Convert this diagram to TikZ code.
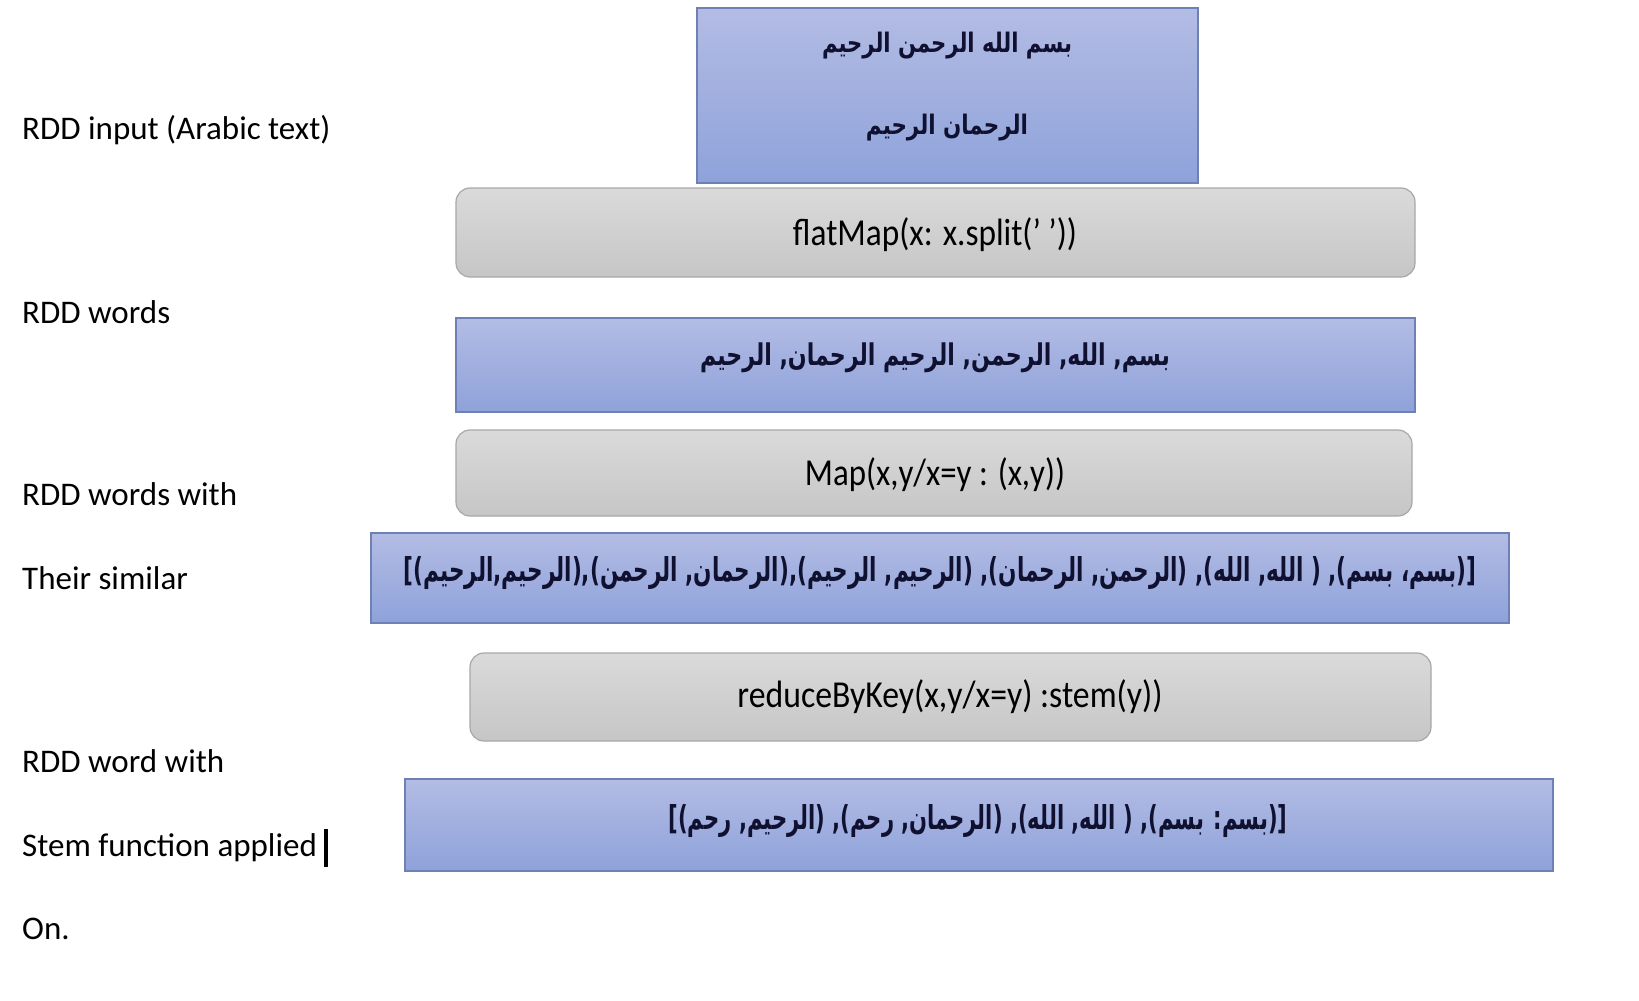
\documentclass[tikz,border=0pt]{standalone}
\usepackage{fontspec}
\setmainfont{Carlito}
\newfontfamily\arabicfont[Script=Arabic]{DejaVu Sans}
\TeXXeTstate=1
\definecolor{bluetop}{HTML}{B3BCE4}
\definecolor{bluebot}{HTML}{8EA2DA}
\definecolor{blueedge}{HTML}{6E80B4}
\definecolor{graytop}{HTML}{DADADA}
\definecolor{graybot}{HTML}{C6C6C6}
\definecolor{grayedge}{HTML}{A8A8A8}
\definecolor{artext}{HTML}{101030}
\tikzset{
  bluebox/.style={draw=blueedge, line width=1.5pt, top color=bluetop, bottom color=bluebot, inner sep=0pt},
  graybox/.style={draw=grayedge, line width=1.2pt, top color=graytop, bottom color=graybot, rounded corners=14pt, inner sep=0pt},
  artxt/.style={inner sep=0pt, text=artext, font=\arabicfont\bfseries},
  optxt/.style={inner sep=0pt, text=black},
  lbl/.style={anchor=base west, inner sep=0pt, text=black, font=\fontsize{33}{38}\selectfont}
}
\begin{document}
\begin{tikzpicture}[x=1pt,y=-1pt]
\useasboundingbox (0,0) rectangle (1639,1001);
% boxes
\node[bluebox, minimum width=501pt, minimum height=175pt] (b1) at (947.5,95.5) {};
\node[graybox, minimum width=959pt, minimum height=89pt] (g1) at (935.5,232.5) {};
\node[bluebox, minimum width=959pt, minimum height=94pt] (b2) at (935.5,365) {};
\node[graybox, minimum width=956pt, minimum height=86pt] (g2) at (934,473) {};
\node[bluebox, minimum width=1138pt, minimum height=90pt] (b3) at (940,578) {};
\node[graybox, minimum width=961pt, minimum height=88pt] (g3) at (950.5,697) {};
\node[bluebox, minimum width=1148pt, minimum height=92pt] (b4) at (979,825) {};
% arabic texts
\node[artxt] (t1a) at (947,46) {\resizebox*{250pt}{27pt}{\beginR بسم الله الرحمن الرحيم\endR}};
\node[artxt] (t1b) at (947,128) {\resizebox*{162pt}{27pt}{\beginR الرحمان الرحيم\endR}};
\node[artxt] (t2) at (935,358) {\resizebox*{470pt}{30pt}{\beginR بسم, الله, الرحمن, الرحيم الرحمان, الرحيم\endR}};
\node[artxt] (t3) at (940,573) {\resizebox*{1072pt}{33pt}{\beginR[(بسم، بسم), ( الله, الله), (الرحمن, الرحمان), (الرحيم, الرحيم),(الرحمان, الرحمن),(الرحيم,الرحيم)]\endR}};
\node[artxt] (t4) at (978,821) {\resizebox*{619pt}{33pt}{\beginR[(بسم: بسم), ( الله, الله), (الرحمان, رحم), (الرحيم, رحم)]\endR}};
% operation texts
\node[optxt] (o1) at (935,235) {\resizebox*{284pt}{34pt}{flatMap(x: x.split(' '))}};
\node[optxt] (o2) at (935,475) {\resizebox*{260pt}{34pt}{Map(x,y/x=y : (x,y))}};
\node[optxt] (o3) at (950,697) {\resizebox*{425pt}{34pt}{reduceByKey(x,y/x=y) :stem(y))}};
% left labels
\node[lbl] (l1) at (22,139) {RDD input (Arabic text)};
\node[lbl] (l2) at (22,323) {RDD words};
\node[lbl] (l3) at (22,505) {RDD words with};
\node[lbl] (l4) at (22,589) {Their similar};
\node[lbl] (l5) at (22,772) {RDD word with};
\node[lbl] (l6) at (22,856) {Stem function applied};
\node[lbl] (l7) at (22,939) {On.};
\draw[line width=3.5pt] (l6.east) ++(9pt,-20pt) coordinate (c1) -- ++(0,38pt) coordinate (c2);
\end{tikzpicture}
\end{document}
